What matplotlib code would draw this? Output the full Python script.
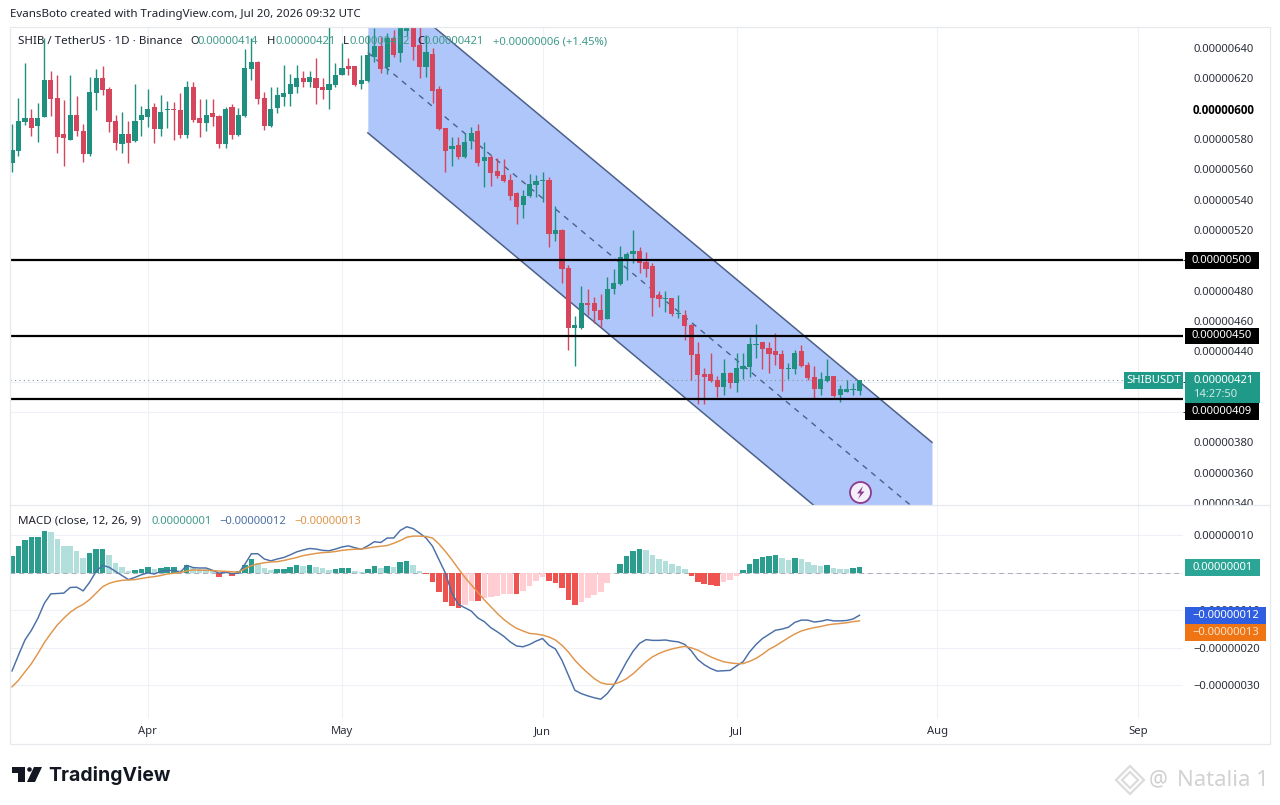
"""
plot.py

SHIB / USDT daily chart with falling channel and MACD panel.
Prices and MACD values are in units of 0.00000001.
"""

import matplotlib

matplotlib.use("Agg")

import matplotlib.pyplot as plt
import numpy as np
from matplotlib.patches import Circle, Polygon, Rectangle
from matplotlib.transforms import Bbox


plt.rcParams["font.family"] = ["Noto Sans", "DejaVu Sans"]

WIDTH, HEIGHT = 1280, 805

GREEN = "#1f8f7f"
RED = "#d5455c"
TEAL_TEXT = "#3f9a8c"
GRID = "#eef1f7"
FRAME = "#e6e8ee"

# candles, one per day starting Mar 11
opens = [
    564.0, 572.3, 591.4, 593.6, 588.6, 594.7, 618.9, 607.0, 583.1, 579.3, 595.8, 585.3,
    569.9, 610.5, 620.0, 613.0, 591.9, 576.7, 583.1, 578.7, 592.5, 594.7, 600.9, 586.6,
    598.9, 599.6, 599.1, 582.6, 614.1, 593.6, 590.8, 596.9, 595.2, 576.7, 600.9, 582.6,
    595.2, 625.9, 630.8, 607.0, 588.6, 600.4, 607.5, 609.7, 614.1, 620.0, 617.8, 620.0,
    614.1, 612.3, 615.6, 622.2, 628.1, 628.1, 616.3, 618.5, 633.8, 641.3, 627.7, 646.4,
    636.9, 651.0, 662.0, 642.0, 627.7, 636.0, 613.0, 587.5, 573.6, 575.8, 567.9, 578.9,
    585.0, 565.7, 568.3, 558.9, 556.2, 552.9, 544.6, 536.7, 542.6, 549.9, 552.5, 552.9,
    517.6, 520.0, 494.9, 455.6, 455.6, 471.6, 471.6, 467.2, 461.5, 481.3, 484.4, 500.6,
    504.4, 506.4, 499.1, 496.3, 477.1, 474.5, 474.9, 464.6, 463.9, 457.3, 438.2, 425.0,
    425.0, 421.1, 416.7, 425.5, 419.3, 428.6, 429.9, 444.2, 445.9, 442.2, 440.2, 438.0,
    428.6, 428.6, 440.2, 431.0, 422.8, 415.4, 420.6, 423.7, 411.2, 413.4, 414.7, 414.0,
]
highs = [
    589.9, 606.8, 629.9, 599.8, 603.5, 646.4, 625.0, 622.4, 605.7, 622.4, 608.4, 589.9,
    620.6, 625.9, 628.1, 614.1, 595.8, 597.8, 592.1, 616.3, 601.8, 613.0, 603.5, 609.0,
    605.0, 604.2, 610.5, 618.5, 617.8, 606.4, 606.4, 606.2, 595.8, 600.9, 603.1, 600.2,
    639.1, 646.4, 631.7, 611.2, 614.1, 614.5, 628.8, 622.9, 628.8, 625.0, 625.0, 633.2,
    620.0, 658.5, 630.3, 643.1, 633.2, 628.1, 635.4, 648.6, 653.0, 647.5, 649.7, 651.9,
    665.0, 672.0, 670.0, 653.6, 648.6, 639.8, 615.2, 587.5, 581.5, 581.5, 583.7, 587.7,
    589.7, 577.8, 569.4, 567.2, 566.6, 556.9, 545.3, 546.4, 556.9, 556.2, 558.0, 554.7,
    535.8, 520.4, 496.9, 463.3, 483.1, 480.9, 476.0, 477.8, 488.8, 494.1, 509.7, 505.7,
    520.0, 508.6, 505.7, 498.0, 480.0, 479.8, 475.4, 477.1, 467.2, 457.8, 445.9, 428.8,
    439.1, 423.7, 434.7, 426.6, 438.7, 438.7, 449.7, 457.8, 445.9, 446.4, 452.3, 440.9,
    432.1, 440.9, 444.2, 433.2, 430.3, 426.6, 434.7, 423.7, 417.8, 421.1, 418.9, 421.2,
]
lows = [
    558.2, 568.8, 589.2, 582.0, 577.8, 594.3, 595.2, 571.0, 562.4, 579.3, 582.0, 565.0,
    569.0, 599.1, 609.0, 584.8, 572.7, 571.0, 564.0, 578.2, 582.0, 587.7, 577.1, 582.0,
    587.0, 579.3, 580.4, 580.4, 591.4, 581.5, 585.5, 588.6, 573.8, 573.8, 579.8, 582.0,
    594.3, 618.9, 603.1, 586.0, 587.7, 597.4, 601.8, 601.8, 610.1, 614.1, 614.1, 603.1,
    606.2, 599.6, 614.1, 622.2, 622.2, 614.9, 612.7, 617.8, 631.0, 623.3, 622.9, 634.3,
    631.0, 648.0, 632.1, 620.0, 620.7, 603.5, 585.9, 558.5, 562.2, 566.6, 567.2, 573.2,
    562.2, 548.6, 549.2, 554.1, 551.4, 539.8, 523.9, 527.9, 542.0, 541.5, 538.2, 509.0,
    512.9, 484.8, 440.9, 430.5, 454.5, 463.9, 458.5, 456.2, 461.1, 477.8, 483.7, 487.0,
    498.5, 491.4, 489.2, 463.3, 469.0, 466.1, 463.3, 461.7, 447.5, 421.1, 405.3, 405.3,
    420.0, 409.6, 411.2, 415.6, 412.9, 421.7, 423.3, 435.4, 428.1, 425.5, 431.0, 414.0,
    422.0, 425.0, 429.9, 421.1, 408.3, 411.2, 419.8, 410.1, 406.8, 413.0, 411.2, 411.2,
]
closes = [
    572.7, 591.9, 593.8, 587.5, 593.8, 618.9, 606.2, 581.5, 580.6, 595.8, 585.5, 570.1,
    611.0, 620.0, 612.3, 591.4, 577.6, 583.1, 577.6, 591.9, 595.6, 599.6, 586.6, 597.8,
    599.6, 598.9, 582.6, 614.1, 592.5, 590.5, 595.8, 594.7, 576.7, 599.6, 582.6, 595.6,
    626.6, 630.8, 606.2, 588.6, 599.6, 608.8, 610.1, 616.0, 620.0, 617.8, 620.6, 613.6,
    612.3, 616.0, 622.0, 626.6, 626.4, 615.6, 618.9, 635.4, 641.3, 626.2, 646.4, 635.4,
    655.0, 668.0, 640.9, 627.7, 637.1, 611.9, 586.6, 572.3, 575.4, 567.9, 578.0, 583.7,
    563.9, 567.9, 557.8, 555.6, 552.3, 542.4, 535.4, 542.6, 550.3, 552.3, 552.9, 517.4,
    520.0, 494.5, 455.6, 457.3, 471.6, 470.7, 466.8, 460.6, 480.9, 484.8, 501.9, 503.9,
    506.1, 498.0, 494.3, 475.4, 474.5, 475.2, 464.6, 465.5, 456.7, 437.6, 424.4, 423.1,
    420.4, 416.7, 425.5, 419.3, 428.8, 430.3, 444.8, 444.8, 441.7, 438.2, 437.8, 428.6,
    429.2, 438.7, 430.5, 422.4, 415.1, 421.7, 423.7, 410.5, 415.1, 414.9, 415.1, 421.0,
]

# MACD panel
hist = [
    4.3, 7.0, 8.75, 9.4, 9.55, 11.2, 10.8, 9.0, 7.1, 7.0, 5.8, 3.8,
    5.2, 6.3, 6.3, 4.7, 2.5, 1.5, 0.4, 0.7, 1.0, 1.5, 0.9, 1.25,
    1.4, 1.45, 0.6, 1.9, 1.2, 1.0, 0.9, 0.5, -1.1, -0.2, -0.8, 0.5,
    2.05, 3.7, 2.5, 1.2, 0.8, 1.0, 1.05, 1.5, 1.9, 1.8, 2.05, 1.5,
    1.1, 0.8, 1.0, 1.25, 1.3, 0.5, 0.2, 1.0, 1.8, 1.2, 1.8, 1.5,
    2.8, 3.1, 2.05, 0.4, -0.3, -2.5, -5.1, -7.8, -8.8, -9.4, -8.7, -7.5,
    -7.6, -6.7, -6.6, -6.2, -5.7, -5.6, -5.65, -4.9, -3.5, -2.2, -1.1, -2.2,
    -2.8, -4.2, -7.3, -8.7, -7.9, -6.7, -6.0, -5.1, -2.9, -0.2, 2.2, 4.5,
    5.8, 6.2, 6.1, 4.7, 3.7, 3.1, 2.2, 1.7, 0.9, -0.8, -2.4, -3.0,
    -3.3, -3.6, -2.6, -2.0, -0.8, 0.7, 2.2, 3.7, 4.2, 4.5, 4.6, 3.8,
    3.4, 3.9, 3.6, 2.8, 1.9, 1.7, 1.9, 1.2, 1.05, 1.0, 1.1, 1.5,
]
macd_line = [
    -26.25, -22.05, -18.0, -15.4, -12.2, -8.2, -5.7, -5.6, -5.5, -4.0, -3.9, -4.9,
    -2.6, 0.3, 1.9, 1.4, 0.3, -0.8, -1.9, -1.3, -0.6, -0.1, -0.4, 0.3,
    0.5, 0.6, 0.0, 1.9, 1.3, 1.2, 1.2, 0.6, -0.2, 0.1, -0.3, -0.2,
    2.2, 5.0, 5.0, 3.6, 3.1, 3.6, 4.0, 4.7, 5.5, 6.0, 6.4, 6.25,
    5.9, 5.8, 6.25, 6.8, 7.1, 6.6, 6.2, 7.1, 8.2, 8.0, 9.2, 9.2,
    11.2, 12.2, 11.7, 10.5, 9.2, 7.0, 3.4, -0.2, -5.5, -8.5, -9.4, -10.3,
    -12.1, -13.1, -14.7, -15.8, -17.0, -18.5, -19.6, -19.8, -19.2, -18.3, -17.6, -19.4,
    -20.4, -23.4, -27.4, -31.4, -32.3, -32.9, -33.4, -33.8, -32.3, -30.1, -27.0, -23.8,
    -21.0, -18.9, -17.9, -18.1, -18.1, -18.0, -18.3, -18.5, -19.2, -20.9, -23.2, -24.6,
    -25.6, -26.3, -26.2, -26.1, -24.9, -23.8, -21.2, -19.2, -17.6, -16.5, -15.4, -15.1,
    -14.6, -13.3, -12.7, -12.7, -13.2, -13.0, -12.6, -12.9, -12.9, -12.8, -12.4, -11.4,
]
signal_line = [
    -30.5, -28.75, -26.5, -24.3, -21.6, -18.7, -16.25, -14.0, -12.2, -10.6, -9.4, -8.5,
    -7.2, -5.5, -3.8, -2.9, -2.4, -2.1, -2.0, -1.9, -1.6, -1.3, -1.1, -0.8,
    -0.4, -0.2, 0.0, 0.4, 0.7, 0.6, 0.6, 0.5, 0.4, 0.3, 0.2, 0.1,
    1.0, 1.8, 2.3, 2.6, 2.8, 2.9, 3.2, 3.6, 4.0, 4.5, 4.8, 5.1,
    5.3, 5.4, 5.6, 5.9, 6.1, 6.2, 6.25, 6.5, 6.8, 7.0, 7.2, 7.8,
    8.5, 9.4, 9.7, 9.7, 9.6, 9.2, 7.6, 5.6, 3.4, 1.0, -1.3, -3.3,
    -5.3, -7.3, -9.1, -10.9, -12.5, -13.8, -14.9, -15.6, -16.25, -16.4, -16.7, -17.2,
    -18.0, -19.4, -21.2, -23.4, -25.2, -26.8, -28.3, -29.4, -29.8, -29.8, -29.2, -28.3,
    -27.0, -25.4, -23.8, -22.5, -21.6, -20.9, -20.4, -20.0, -19.7, -20.1, -20.7, -21.6,
    -22.5, -23.2, -23.8, -24.1, -24.3, -24.3, -23.7, -22.9, -21.8, -20.5, -19.6, -18.5,
    -17.4, -16.4, -15.6, -15.1, -14.7, -14.4, -14.0, -13.75, -13.6, -13.4, -13.1, -12.9,
]

# axis ticks
month_names = ["Apr", "May", "Jun", "Jul", "Aug", "Sep"]
month_days = [21, 51, 82, 112, 143, 174]
price_grid = [340, 360, 380, 400, 420, 440, 460, 480, 500, 520, 540, 560, 580, 600, 620, 640]
price_ticks = [340, 360, 380, 440, 460, 480, 520, 540, 560, 580, 600, 620, 640]
macd_ticks = [-30, -20, -10, 0, 10]

# drawn levels and channel
levels = [500, 450, 408.6]
last_close = 421
channel_days = [55, 142.2]
channel_upper = [690.1, 380.0]
channel_middle = [637.0, 326.8]
channel_lower = [584.0, 273.4]


def px_rect(top, bottom, left=10, right=1183):
    return [left / WIDTH, 1 - bottom / HEIGHT, (right - left) / WIDTH, (bottom - top) / HEIGHT]


def tag(over, left, right, top, bottom, color, text, text_color="white"):
    over.add_patch(Rectangle((left, top), right - left, bottom - top, color=color, lw=0))
    over.text((left + right) / 2, (top + bottom) / 2 - 0.5, text, color=text_color,
              fontsize=8.1, ha="center", va="center")


days = np.arange(len(closes))
opens_a, highs_a, lows_a, closes_a = map(np.array, (opens, highs, lows, closes))
rising = closes_a >= opens_a
candle_colors = np.where(rising, GREEN, RED)

fig = plt.figure(figsize=(WIDTH / 100, HEIGHT / 100), dpi=100)

# price panel
ax = fig.add_axes(px_rect(27, 505))
ax.set_xlim(-0.31, 181)
ax.set_ylim(338.7, 653.8)
ax.set_yticks(price_grid, minor=True)
ax.grid(which="minor", axis="y", color=GRID, lw=0.8)
ax.set_xticks(month_days)
ax.grid(which="major", axis="x", color=GRID, lw=0.8)
ax.set_axisbelow(True)

ax.fill_between(channel_days, channel_lower, channel_upper, color="#aec6fa", lw=0, zorder=1)
ax.plot(channel_days, channel_upper, color="#4c6088", lw=1.1, zorder=2)
ax.plot(channel_days, channel_lower, color="#4c6088", lw=1.1, zorder=2)
ax.plot(channel_days, channel_middle, color="#4c6088", lw=1.0, ls=(0, (4, 4)), zorder=2)

ax.axhline(last_close, color="#7f9a94", lw=0.8, ls=(0, (1, 3)), zorder=2)
ax.vlines(days, lows_a, highs_a, colors=candle_colors, lw=1.0, zorder=3)
ax.bar(days, closes_a - opens_a, bottom=opens_a, width=0.8, color=candle_colors, lw=0, zorder=4)
for level in levels:
    ax.axhline(level, color="black", lw=1.6, zorder=5)

ax.yaxis.tick_right()
ax.set_yticks(price_ticks, [f"0.{int(v):08d}" for v in price_ticks])
ax.tick_params(axis="y", length=0, pad=7.2, labelsize=8.1, labelcolor="#2a2e39")
ax.tick_params(axis="x", length=0, labelbottom=False)
clip = Bbox([[0, 805 - 505], [1280, 805]])
for label, value in zip(ax.get_yticklabels(), price_ticks):
    label.set_ha("left")
    label.set_clip_on(True)
    label.set_clip_box(clip)
    if value == 600:
        label.set_family("Open Sans")
        label.set_fontweight("bold")
        label.set_fontsize(8.4)
        label.set_color("black")
for side in ax.spines.values():
    side.set_visible(False)

# MACD panel
ax2 = fig.add_axes(px_rect(505, 718))
ax2.set_xlim(-0.31, 181)
ax2.set_ylim(-38.8, 18.0)
ax2.set_xticks(month_days, month_names)
ax2.grid(which="major", color=GRID, lw=0.8)
ax2.set_axisbelow(True)
hist_colors = []
for i, value in enumerate(hist):
    previous = hist[i - 1] if i else value
    if value >= 0:
        hist_colors.append("#2a9d8f" if value >= previous else "#b2dfdb")
    else:
        hist_colors.append("#ef5350" if value <= previous else "#ffcdd2")
ax2.axhline(0, color="#a8acb5", lw=0.7, ls=(0, (5, 4)), zorder=1)
ax2.bar(days, hist, width=0.86, color=hist_colors, lw=0, zorder=2)
ax2.plot(days, macd_line, color="#4a6fa8", lw=1.05, zorder=3)
ax2.plot(days, signal_line, color="#e0954a", lw=1.05, zorder=3)

ax2.yaxis.tick_right()
macd_labels = [("\u2212" if v < 0 else "") + f"0.{abs(v):08d}" for v in macd_ticks]
ax2.set_yticks(macd_ticks, macd_labels)
ax2.tick_params(axis="y", length=0, pad=7.2, labelsize=8.1, labelcolor="#2a2e39")
ax2.tick_params(axis="x", length=0, pad=5.7, labelsize=8.1, labelcolor="#2a2e39")
for label in ax2.get_yticklabels():
    label.set_ha("left")
for side in ax2.spines.values():
    side.set_visible(False)

# everything else is placed in reference pixels
over = fig.add_axes([0, 0, 1, 1], zorder=10)
over.set_xlim(0, WIDTH)
over.set_ylim(HEIGHT, 0)
over.axis("off")

over.add_patch(Rectangle((10, 27), 1260, 717, fill=False, ec=FRAME, lw=0.9))
over.plot([10, 1270], [505, 505], color=FRAME, lw=0.9)

over.text(10, 14, "EvansBoto created with TradingView.com, Jul 20, 2026 09:32 UTC",
          fontsize=8.3, color="#1e222d", va="center")

legend_y = 42
over.text(18, legend_y, "SHIB / TetherUS \u00b7 1D \u00b7 Binance", fontsize=8.35, color="#1e222d", va="center")
for x, text, color in [
    (190, "O", "#1e222d"), (198, "0.00000414", TEAL_TEXT),
    (267, "H", "#1e222d"), (275, "0.00000421", TEAL_TEXT),
    (343, "L", "#1e222d"), (350, "0.00000412", TEAL_TEXT),
    (417, "C", "#1e222d"), (424, "0.00000421", TEAL_TEXT),
    (493, "+0.00000006 (+1.45%)", TEAL_TEXT),
]:
    over.text(x, legend_y, text, fontsize=8.1, color=color, va="center")

macd_y = 521
over.text(18, macd_y, "MACD (close, 12, 26, 9)", fontsize=8.35, color="#1e222d", va="center")
over.text(151, macd_y, "0.00000001", fontsize=8.1, color=TEAL_TEXT, va="center")
over.text(219, macd_y, "\u22120.00000012", fontsize=8.1, color="#4a6fa8", va="center")
over.text(294, macd_y, "\u22120.00000013", fontsize=8.1, color="#e0954a", va="center")

tag(over, 1185, 1259, 252, 269, "black", "0.00000500")
tag(over, 1185, 1259, 328, 344, "black", "0.00000450")
tag(over, 1185, 1259, 403, 420, "black", "0.00000409")
tag(over, 1124, 1183, 372, 389, "#1f9a88", "SHIBUSDT")
over.add_patch(Rectangle((1185, 372), 75, 31, color="#1f9a88", lw=0))
over.text(1193, 380, "0.00000421", color="white", fontsize=8.1, va="center")
over.text(1193, 394, "14:27:50", color="#cdeae5", fontsize=8.1, va="center")
tag(over, 1185, 1260, 559, 576, "#2aa596", "0.00000001")
tag(over, 1185, 1266, 607, 624, "#2f5fe0", "\u22120.00000012")
tag(over, 1185, 1266, 624, 641, "#ee7414", "\u22120.00000013", "#ffe3c8")

# lightning badge on the channel
over.add_patch(Circle((860.5, 492.5), 10.5, fc="#f4f0fa", ec="#8c3a8f", lw=1.3))
over.add_patch(Polygon([(863, 486), (857, 493.5), (860.5, 493.5), (858, 499), (864.5, 491.5), (861, 491.5)],
                       color="#8c3a8f", lw=0))

# TradingView logo
over.add_patch(Polygon([(12, 767), (25, 767), (25, 782), (17.5, 782), (17.5, 773), (12, 773)], color="#131722", lw=0))
over.add_patch(Circle((29.5, 769.5), 2.3, color="#131722", lw=0))
over.add_patch(Polygon([(34, 767), (42, 767), (35, 782), (27, 782)], color="#131722", lw=0))
over.text(48.5, 775, "TradingView", family="Inter", fontweight="bold", fontsize=14.0, color="#131722", va="center")

# watermark
for size in [14, 8]:
    cx, cy = 1130, 780
    over.add_patch(Polygon([(cx - size, cy), (cx, cy - size), (cx + size, cy), (cx, cy + size)],
                           fill=False, ec="#dcdcdc", lw=1.6))
over.text(1149, 780, "@", fontsize=15, color="#cfcfcf", va="center")
over.text(1177, 780, "Natalia 1", fontsize=16, color="#d2d2d2", va="center")

fig.savefig("out.png", dpi=100)
